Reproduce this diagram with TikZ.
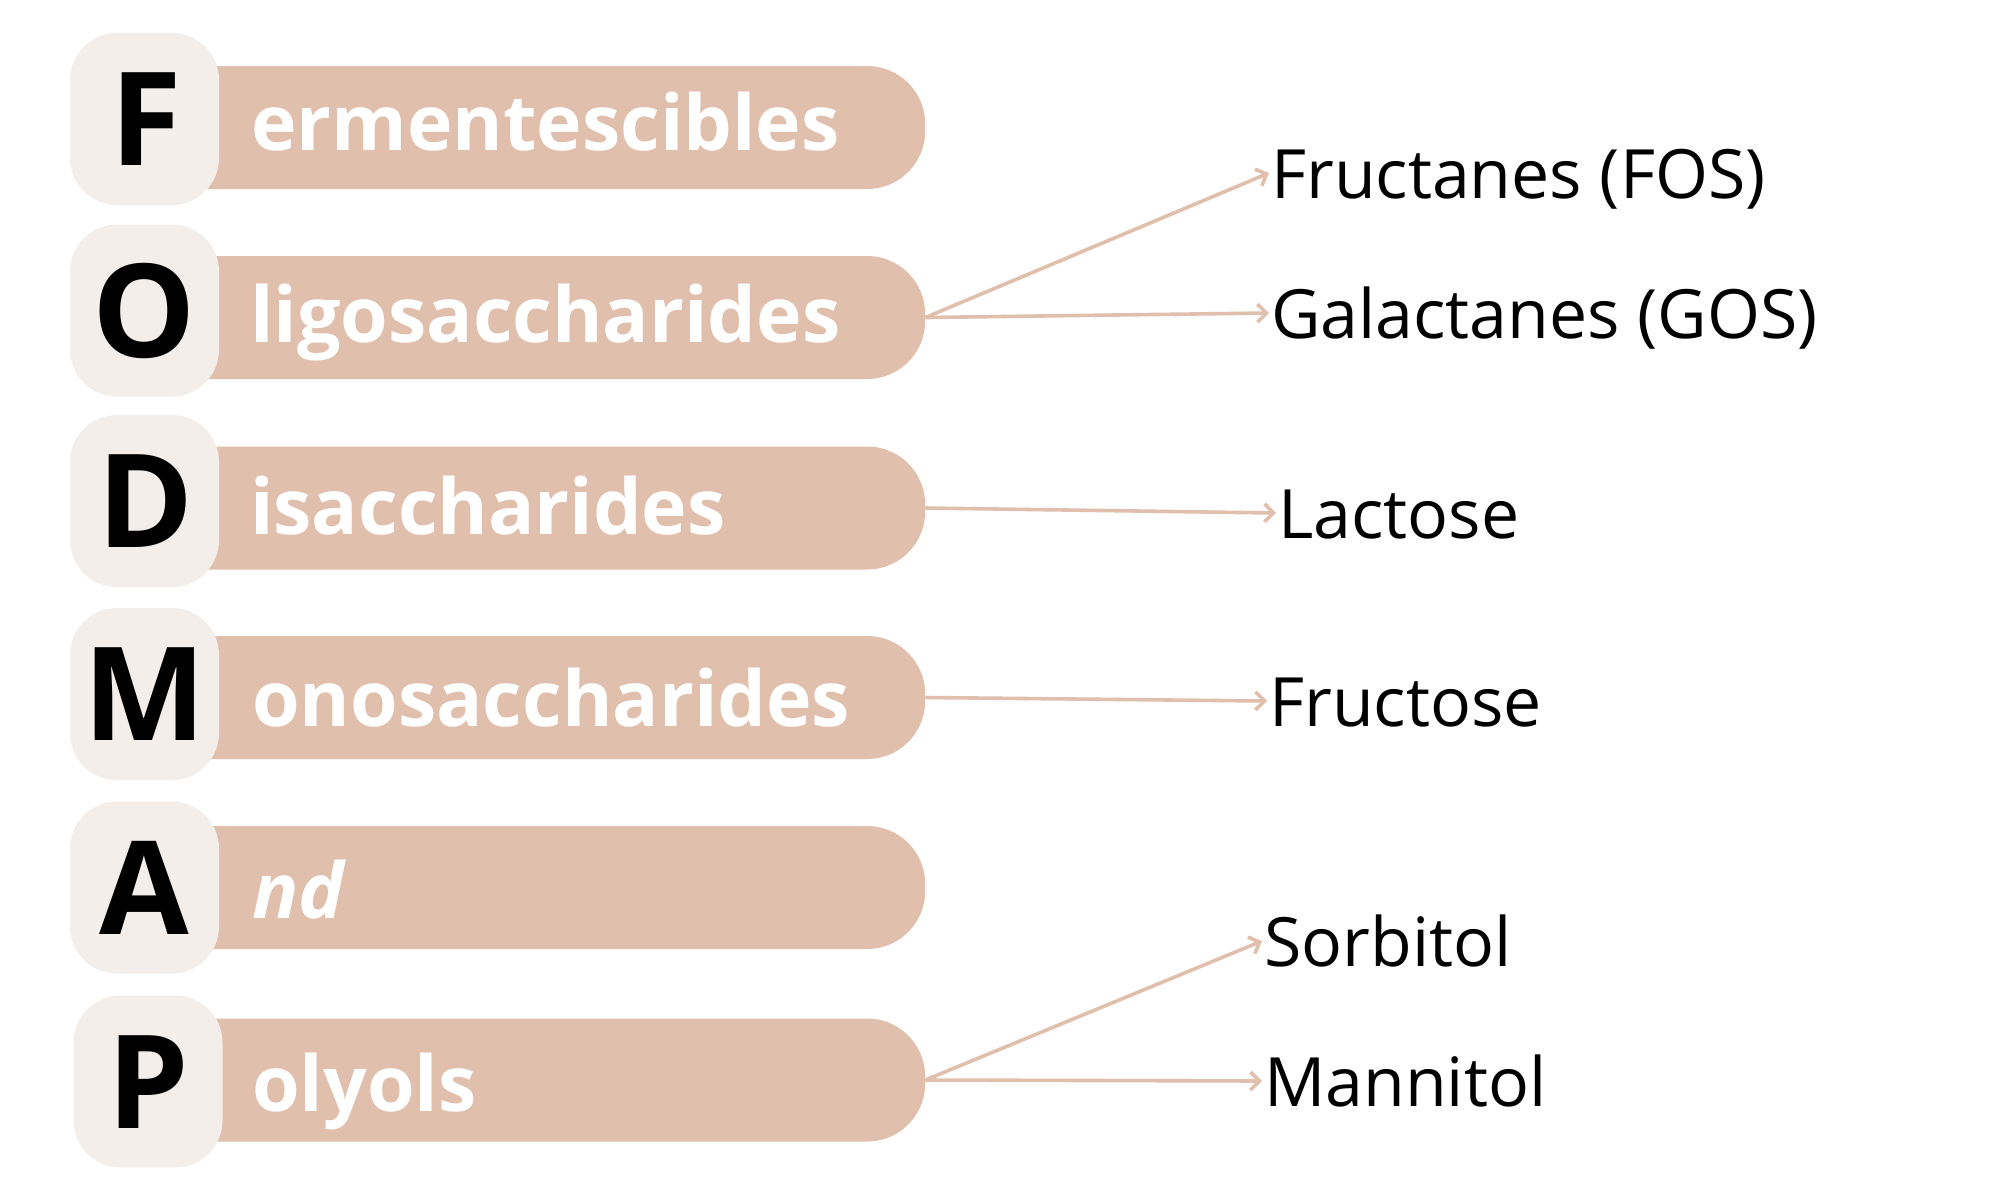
\documentclass[tikz,border=0pt]{standalone}
\usepackage{fontspec}
\setmainfont{Open Sans}
\usetikzlibrary{arrows.meta,calc}
\definecolor{barc}{HTML}{E0BFAD}
\definecolor{capc}{HTML}{F4EEEB}
\begin{document}
\begin{tikzpicture}[x=1pt,y=-1pt,
  bar/.style={fill=barc, rounded corners=58pt, minimum width=780pt, minimum height=123pt, anchor=west, inner sep=0pt},
  capbox/.style={fill=capc, rounded corners=47pt, minimum width=149pt, minimum height=172pt, inner sep=0pt},
  big/.style={font=\fontsize{130}{130}\selectfont\bfseries, text=black, anchor=base, inner sep=0pt},
  word/.style={font=\fontsize{77}{77}\selectfont\bfseries, text=white, anchor=base west, inner sep=0pt},
  lbl/.style={font=\fontsize{68}{68}\selectfont, text=black, anchor=base west, inner sep=0pt},
  conn/.style={draw=barc, line width=3.6pt, -{Straight Barb[length=9pt,width=18pt]}}]
\useasboundingbox[fill=white] (0,0) rectangle (2000,1200);

% bars
\node[bar] (bF) at (145,127.5) {};
\node[bar] (bO) at (145,317.5) {};
\node[bar] (bD) at (145,508) {};
\node[bar] (bM) at (145,697.5) {};
\node[bar] (bA) at (145,887.5) {};
\node[bar] (bP) at (145,1080) {};

% initial boxes
\node[capbox] (cF) at (144.5,119) {};
\node[capbox] (cO) at (144.5,310.5) {};
\node[capbox] (cD) at (144.5,501) {};
\node[capbox] (cM) at (144.5,694) {};
\node[capbox] (cA) at (144.5,887.5) {};
\node[capbox] (cP) at (148,1081.5) {};

% initial letters
\node[big] (lF) at (146,165.5) {F};
\node[big] (lO) at (144.5,357) {O};
\node[big] (lD) at (146,547.5) {D};
\node[big] (lM) at (144.5,740.5) {M};
\node[big] (lA) at (144.5,934) {A};
\node[big] (lP) at (148,1128) {P};

% words
\node[word] (wF) at (251,150) {ermentescibles};
\node[word] (wO) at (250,342) {ligosaccharides};
\node[word] (wD) at (250,534) {isaccharides};
\node[word] (wM) at (252,726) {onosaccharides};
\node[word, font=\fontsize{77}{77}\selectfont\bfseries\itshape] (wA) at (252,918) {nd};
\node[word] (wP) at (252,1111) {olyols};

% labels
\node[lbl] (fos) at (1271,198) {Fructanes (FOS)};
\node[lbl] (gos) at (1271,338) {Galactanes (GOS)};
\node[lbl] (lac) at (1278,538) {Lactose};
\node[lbl] (fru) at (1269,726) {Fructose};
\node[lbl] (sor) at (1264,966) {Sorbitol};
\node[lbl] (man) at (1264,1106) {Mannitol};

% connectors
\draw[conn] (bO.east) -- ($(fos.base west)+(-2,-25)$);
\draw[conn] (bO.east) -- ($(gos.base west)+(-2,-25)$);
\draw[conn] (bD.east) -- ($(lac.base west)+(-2,-25)$);
\draw[conn] (bM.east) -- ($(fru.base west)+(-2,-25)$);
\draw[conn] (bP.east) -- ($(sor.base west)+(-2,-25)$);
\draw[conn] (bP.east) -- ($(man.base west)+(-2,-25)$);
\end{tikzpicture}
\end{document}
